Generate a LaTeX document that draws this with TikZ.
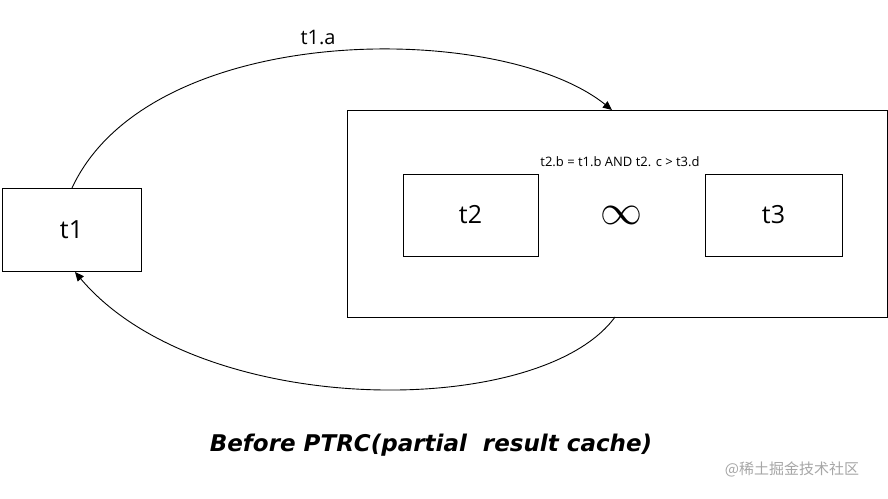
\documentclass[tikz,border=0pt]{standalone}
\usepackage{fontspec}
\usepackage{graphicx}
\setmainfont{Open Sans}
\newfontfamily\capfont{DejaVu Sans}
\newfontfamily\cjk{Noto Sans CJK SC}
\usetikzlibrary{arrows.meta}
\begin{document}
\begin{tikzpicture}[x=1pt,y=-1pt,
  box/.style={draw,line width=1pt,inner sep=0pt},
  conn/.style={line width=0.9pt,-{Triangle[length=9pt,width=8pt]}}]
\useasboundingbox (0,0) rectangle (888,498);
\node[box,minimum width=139pt,minimum height=83pt,font=\fontsize{25}{28}\selectfont] (t1) at (71.5,229.5) {t1};
\node[box,minimum width=540pt,minimum height=207pt] (big) at (617,213.5) {};
\node[box,minimum width=135pt,minimum height=82pt,font=\fontsize{25}{28}\selectfont] (t2) at (470.5,215) {t2};
\node[box,minimum width=137pt,minimum height=82pt,font=\fontsize{25}{28}\selectfont] (t3) at (773.5,215) {t3};
\node[font=\fontsize{13}{15}\selectfont] (cond) at (620,162) {t2.b = t1.b AND t2. c > t3.d};
\node (inf) at (621,215) {\scalebox{4.2}{$\infty$}};
\node[font=\fontsize{20}{24}\selectfont] (lab) at (318,38) {t1.a};
\coordinate (a1) at (612,110);
\coordinate (b0) at (615,317);
\draw[conn] (72,188) .. controls (150,20) and (500,20) .. (a1);
\draw[conn] (b0) .. controls (540,420) and (200,420) .. (75,272);
\node[font=\capfont\bfseries\itshape\fontsize{23}{26}\selectfont] (cap) at (431,445) {Before PTRC(partial\ \ result cache)};
\node[font=\cjk\fontsize{15}{17}\selectfont,text=gray!70] (wm) at (792,469) {@稀土掘金技术社区};
\end{tikzpicture}
\end{document}
